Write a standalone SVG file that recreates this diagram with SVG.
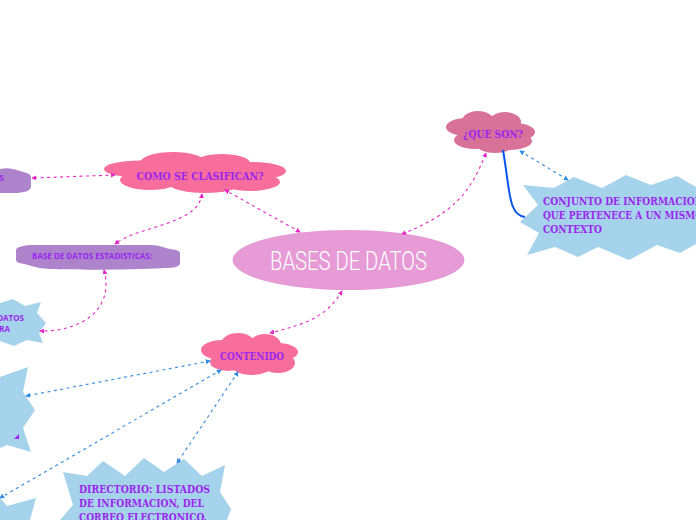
<svg xmlns="http://www.w3.org/2000/svg" width="696" height="520" viewBox="0 0 696 520">
<style>
.t{font-family:"DejaVu Serif",serif;font-weight:700;font-size:10.5px;fill:#9b27ee}
.s{font-family:"Open Sans","Liberation Sans",sans-serif;font-weight:700;font-size:8px;fill:#9b27ee}
.pink{fill:#f76d9c}.rose{fill:#d97298}.star{fill:#a6d3ec}.pur{fill:#ad84cb}
.c{fill:none;stroke-width:1.1;stroke-dasharray:3 3.500}
.m{stroke:#e526c6;marker-start:url(#am);marker-end:url(#am)}
.b{stroke:#2e8ae6;marker-start:url(#ab);marker-end:url(#ab)}
</style>
<defs>
<marker id="am" viewBox="0 0 6 6" refX="5" refY="3" markerWidth="5" markerHeight="5" markerUnits="userSpaceOnUse" orient="auto-start-reverse"><path d="M0 0L6 3L0 6z" fill="#e526c6"/></marker>
<marker id="ab" viewBox="0 0 6 6" refX="5" refY="3" markerWidth="5" markerHeight="5" markerUnits="userSpaceOnUse" orient="auto-start-reverse"><path d="M0 0L6 3L0 6z" fill="#2e8ae6"/></marker>
</defs>
<g id="central"><ellipse cx="348.500" cy="260" rx="116" ry="30" fill="#e69ad6"/>
<text x="348.500" y="270" text-anchor="middle" font-family="Roboto,sans-serif" font-weight="300" font-size="25" fill="#fff" textLength="157" lengthAdjust="spacingAndGlyphs">BASES DE DATOS</text></g>
<g id="como" class="pink"><ellipse cx="140" cy="169" rx="36" ry="8.500"/><ellipse cx="173" cy="163" rx="33" ry="11"/><ellipse cx="222" cy="163" rx="28" ry="9"/><ellipse cx="253" cy="171" rx="33" ry="9"/><ellipse cx="150" cy="180" rx="30" ry="10"/><ellipse cx="205" cy="183" rx="37" ry="10"/><ellipse cx="250" cy="182" rx="30" ry="9"/><ellipse cx="195" cy="172" rx="70" ry="15"/>
<text class="t" x="200" y="180" text-anchor="middle" textLength="127" lengthAdjust="spacingAndGlyphs">COMO SE CLASIFICAN?</text></g>
<g id="queson" class="rose"><ellipse cx="466" cy="127" rx="20" ry="9"/><ellipse cx="478" cy="121" rx="16" ry="10"/><ellipse cx="505" cy="122" rx="16" ry="10"/><ellipse cx="515" cy="132" rx="20" ry="9"/><ellipse cx="475" cy="140" rx="21" ry="9"/><ellipse cx="495" cy="145" rx="18" ry="8"/><ellipse cx="510" cy="141" rx="22" ry="9"/><ellipse cx="490" cy="132" rx="28" ry="12"/>
<text class="t" x="493" y="138" text-anchor="middle" textLength="60" lengthAdjust="spacingAndGlyphs">¿QUE SON?</text></g>
<g id="contenido" class="pink"><ellipse cx="222" cy="350" rx="21" ry="10"/><ellipse cx="238" cy="344" rx="17" ry="11"/><ellipse cx="265" cy="345" rx="16" ry="11"/><ellipse cx="278" cy="352" rx="20" ry="9"/><ellipse cx="228" cy="362" rx="18" ry="9"/><ellipse cx="252" cy="366" rx="20" ry="9"/><ellipse cx="278" cy="363" rx="17" ry="10"/><ellipse cx="250" cy="354" rx="32" ry="13"/>
<text class="t" x="252" y="360" text-anchor="middle" textLength="64" lengthAdjust="spacingAndGlyphs">CONTENIDO</text></g>
<g id="conjunto"><polygon class="star" points="523,185 554,188 574,177 602,188 626,175 651,185 677,176 696,187 696,244 680,253 657,245 629,260 598,247 578,257 555,247 527,255 539,233 520,222 538,205"/>
<text class="t" x="543" y="205" textLength="160" lengthAdjust="spacingAndGlyphs">CONJUNTO DE INFORMACION</text><text class="t" x="543" y="219" textLength="160" lengthAdjust="spacingAndGlyphs">QUE PERTENECE A UN MISMO</text><text class="t" x="543" y="233" textLength="59" lengthAdjust="spacingAndGlyphs">CONTEXTO</text></g>
<g id="directorio"><polygon class="star" points="63,472 87,476 103,461 125,476 144,458 164,472 184,459 202,476 225,465 220,492 231,509 227,520 60,520 73,505"/>
<text class="t" x="79" y="493" textLength="131" lengthAdjust="spacingAndGlyphs">DIRECTORIO: LISTADOS</text><text class="t" x="79" y="507" textLength="125" lengthAdjust="spacingAndGlyphs">DE INFORMACION, DEL</text><text class="t" x="79" y="521" textLength="128" lengthAdjust="spacingAndGlyphs">CORREO ELECTRONICO,</text></g>
<g id="estrella-media"><polygon class="star" points="0,377 28,367 23,392 35,410 23,428 31,452 7,445 0,448"/><path d="M14 439L19 434L19 439z" fill="#9b27ee"/></g>
<g id="estrella-inferior"><polygon class="star" points="0,498 7,506 36,498 30,520 0,520"/></g>
<g id="estrella-superior"><polygon class="star" points="0,303 13,299 25,306 41,302 37,313 46,323 39,333 43,343 27,340 14,346 0,341"/>
<text class="s" x="24" y="321" text-anchor="end">DATOS</text><text class="s" x="10" y="332" text-anchor="end">RA</text></g>
<g id="estadisticas"><path class="pur" d="M16 250C16 247 24 245 34 245L150 245C160 245 164 248 170 249C178 250 180 251 180 254L180 263C180 267 174 268 164 268C130 270 80 270 50 269C34 268 30 265 24 264C18 263 16 262 16 259z"/>
<text class="s" x="32" y="259" textLength="120" lengthAdjust="spacing">BASE DE DATOS ESTADISTICAS:</text></g>
<g id="otra-base"><path class="pur" d="M0 169C8 167 14 169 20 171C28 173 31 174 31 178L31 186C31 191 24 193 14 193L0 193z"/><text class="s" x="4" y="181" text-anchor="end">S</text></g>
<g id="connectors">
<path class="c m" d="M115 175L32 178"/>
<path class="c m" d="M202 194C198 225 140 225 115 244"/>
<path class="c m" d="M104 270C115 310 80 332 40 331"/>
<path class="c m" d="M300 232L225 190"/>
<path class="c m" d="M402 234C450 215 470 195 486 153"/>
<path class="c m" d="M342 291C325 320 300 325 270 333"/>
<path class="c b" d="M210 361L26 396"/>
<path class="c b" d="M221 370L0 498"/>
<path class="c b" d="M238 372L177 463"/>
<path class="c b" d="M520 151L568 180"/>
<path d="M503 150C510 190 508 215 525 217" fill="none" stroke="#0a55f0" stroke-width="2"/>
</g>
</svg>
